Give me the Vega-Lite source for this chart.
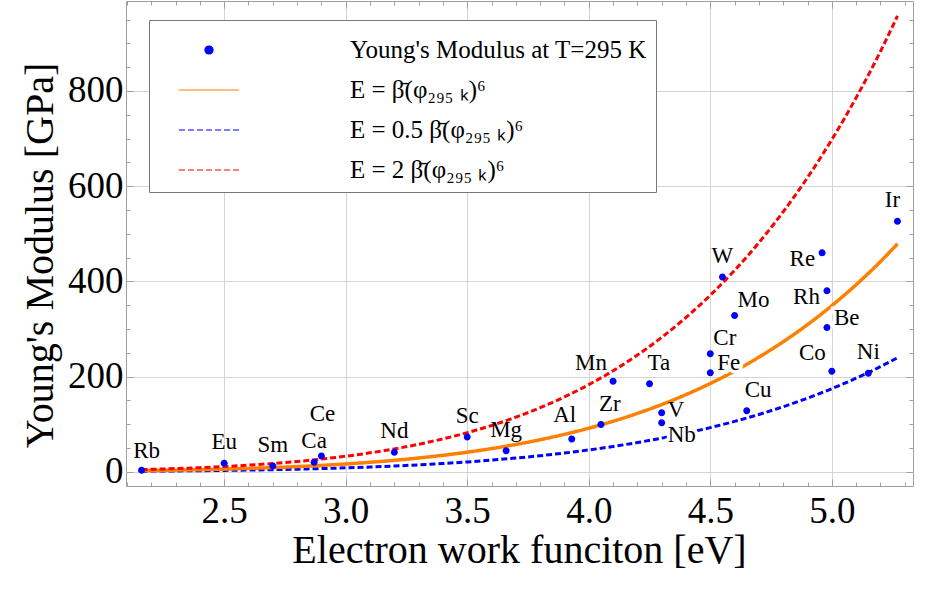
{
  "$schema": "https://vega.github.io/schema/vega-lite/v6.json",
  "width": 787,
  "height": 485,
  "autosize": {"type": "none"},
  "padding": {"left": 126, "top": 1, "right": 37, "bottom": 107},
  "background": "white",
  "config": {
    "font": "Liberation Serif",
    "view": {"stroke": "#a0a0a0", "strokeWidth": 1},
    "axis": {
      "domain": false,
      "labelFont": "Liberation Serif",
      "labelColor": "black",
      "labelOverlap": false,
      "labelFlush": false,
      "titleFont": "Liberation Serif",
      "titleFontWeight": "normal",
      "titleColor": "black",
      "tickColor": "#a0a0a0",
      "gridColor": "#d4d4d4"
    }
  },
  "datasets": {
    "pts": [
      {"el": "Rb", "phi": 2.16, "E": 3},
      {"el": "Eu", "phi": 2.50, "E": 18},
      {"el": "Sm", "phi": 2.70, "E": 12},
      {"el": "Ca", "phi": 2.87, "E": 20},
      {"el": "Ce", "phi": 2.90, "E": 33},
      {"el": "Nd", "phi": 3.20, "E": 41},
      {"el": "Sc", "phi": 3.50, "E": 73},
      {"el": "Mg", "phi": 3.66, "E": 44},
      {"el": "Al", "phi": 3.93, "E": 69},
      {"el": "Zr", "phi": 4.05, "E": 99},
      {"el": "Mn", "phi": 4.10, "E": 190},
      {"el": "Ta", "phi": 4.25, "E": 185},
      {"el": "V", "phi": 4.30, "E": 124},
      {"el": "Nb", "phi": 4.30, "E": 103},
      {"el": "Cr", "phi": 4.50, "E": 248},
      {"el": "Fe", "phi": 4.50, "E": 208},
      {"el": "W", "phi": 4.55, "E": 409},
      {"el": "Mo", "phi": 4.60, "E": 328},
      {"el": "Cu", "phi": 4.65, "E": 128},
      {"el": "Re", "phi": 4.96, "E": 460},
      {"el": "Rh", "phi": 4.98, "E": 380},
      {"el": "Be", "phi": 4.98, "E": 303},
      {"el": "Co", "phi": 5.00, "E": 211},
      {"el": "Ni", "phi": 5.15, "E": 207},
      {"el": "Ir", "phi": 5.27, "E": 526}
    ],
    "fit": [
      {"phi": 2.16, "E1": 2.27, "E05": 1.13, "E2": 4.54},
      {"phi": 2.2, "E1": 2.53, "E05": 1.27, "E2": 5.06},
      {"phi": 2.3, "E1": 3.31, "E05": 1.65, "E2": 6.61},
      {"phi": 2.4, "E1": 4.27, "E05": 2.13, "E2": 8.53},
      {"phi": 2.5, "E1": 5.45, "E05": 2.73, "E2": 10.9},
      {"phi": 2.6, "E1": 6.9, "E05": 3.45, "E2": 13.8},
      {"phi": 2.7, "E1": 8.65, "E05": 4.33, "E2": 17.3},
      {"phi": 2.8, "E1": 10.76, "E05": 5.38, "E2": 21.52},
      {"phi": 2.9, "E1": 13.28, "E05": 6.64, "E2": 26.56},
      {"phi": 3.0, "E1": 16.28, "E05": 8.14, "E2": 32.56},
      {"phi": 3.1, "E1": 19.82, "E05": 9.91, "E2": 39.64},
      {"phi": 3.2, "E1": 23.98, "E05": 11.99, "E2": 47.95},
      {"phi": 3.3, "E1": 28.84, "E05": 14.42, "E2": 57.68},
      {"phi": 3.4, "E1": 34.5, "E05": 17.25, "E2": 68.99},
      {"phi": 3.5, "E1": 41.05, "E05": 20.52, "E2": 82.1},
      {"phi": 3.6, "E1": 48.61, "E05": 24.3, "E2": 97.21},
      {"phi": 3.7, "E1": 57.29, "E05": 28.65, "E2": 114.59},
      {"phi": 3.8, "E1": 67.23, "E05": 33.62, "E2": 134.47},
      {"phi": 3.9, "E1": 78.57, "E05": 39.29, "E2": 157.15},
      {"phi": 4.0, "E1": 91.46, "E05": 45.73, "E2": 182.93},
      {"phi": 4.1, "E1": 106.07, "E05": 53.04, "E2": 212.14},
      {"phi": 4.2, "E1": 122.57, "E05": 61.29, "E2": 245.14},
      {"phi": 4.3, "E1": 141.16, "E05": 70.58, "E2": 282.32},
      {"phi": 4.4, "E1": 162.03, "E05": 81.02, "E2": 324.06},
      {"phi": 4.5, "E1": 185.42, "E05": 92.71, "E2": 370.84},
      {"phi": 4.6, "E1": 211.56, "E05": 105.78, "E2": 423.12},
      {"phi": 4.7, "E1": 240.7, "E05": 120.35, "E2": 481.4},
      {"phi": 4.8, "E1": 273.11, "E05": 136.56, "E2": 546.22},
      {"phi": 4.9, "E1": 309.08, "E05": 154.54, "E2": 618.16},
      {"phi": 5.0, "E1": 348.91, "E05": 174.46, "E2": 697.82},
      {"phi": 5.1, "E1": 392.93, "E05": 196.47, "E2": 785.86},
      {"phi": 5.2, "E1": 441.48, "E05": 220.74, "E2": 882.96},
      {"phi": 5.27, "E1": 478.8, "E05": 239.4, "E2": 957.6}
    ]
  },
  "resolve": {"scale": {"x": "shared", "y": "shared"}, "axis": {"x": "independent", "y": "independent"}},
  "layer": [
    {
      "data": {"name": "fit"},
      "mark": {"type": "line", "strokeWidth": 3, "interpolate": "monotone"},
      "encoding": {
        "x": {
          "field": "phi", "type": "quantitative",
          "scale": {"domain": [2.096, 5.334], "nice": false, "zero": false},
          "title": "Electron work funciton [eV]",
          "axis": {
            "orient": "bottom",
            "values": [2.1, 2.2, 2.3, 2.4, 2.5, 2.6, 2.7, 2.8, 2.9, 3.0, 3.1, 3.2, 3.3, 3.4, 3.5, 3.6, 3.7, 3.8, 3.9, 4.0, 4.1, 4.2, 4.3, 4.4, 4.5, 4.6, 4.7, 4.8, 4.9, 5.0, 5.1, 5.2, 5.3],
            "format": ".1f",
            "labelExpr": "abs(datum.value * 2 - round(datum.value * 2)) < 0.01 ? datum.label : ''",
            "labelFontSize": 37,
            "labelPadding": 14,
            "tickSize": {"condition": {"test": "abs(datum.value * 2 - round(datum.value * 2)) < 0.01", "value": -7}, "value": -4},
            "gridOpacity": {"condition": {"test": "abs(datum.value * 2 - round(datum.value * 2)) < 0.01", "value": 1}, "value": 0},
            "titleFontSize": 40,
            "titleX": 393,
            "titleY": 64,
            "titleBaseline": "middle"
          }
        },
        "y": {
          "field": "E05", "type": "quantitative",
          "scale": {"domain": [-30, 989], "nice": false, "zero": false},
          "title": "Young's Modulus [GPa]",
          "axis": {
            "orient": "left",
            "values": [0, 50, 100, 150, 200, 250, 300, 350, 400, 450, 500, 550, 600, 650, 700, 750, 800, 850, 900, 950],
            "labelExpr": "datum.value % 200 === 0 ? datum.label : ''",
            "labelFontSize": 37,
            "labelPadding": 10,
            "tickSize": {"condition": {"test": "datum.value % 200 === 0", "value": -7}, "value": -4},
            "gridOpacity": {"condition": {"test": "datum.value % 200 === 0", "value": 1}, "value": 0},
            "titleFontSize": 40,
            "titleX": -86,
            "titleY": 254,
            "titleBaseline": "middle"
          }
        },
        "color": {
          "datum": "E = 0.5 β̄(φ₂₉₅ ₖ)⁶",
          "scale": {
            "domain": ["Young's Modulus at T=295 K", "E = β̄(φ₂₉₅ ₖ)⁶", "E = 0.5 β̄(φ₂₉₅ ₖ)⁶", "E = 2 β̄(φ₂₉₅ ₖ)⁶"],
            "range": ["#0000ff", "#ff7f00", "#0000ff", "#ff0000"]
          }
        },
        "strokeDash": {
          "datum": "E = 0.5 β̄(φ₂₉₅ ₖ)⁶",
          "scale": {
            "domain": ["Young's Modulus at T=295 K", "E = β̄(φ₂₉₅ ₖ)⁶", "E = 0.5 β̄(φ₂₉₅ ₖ)⁶", "E = 2 β̄(φ₂₉₅ ₖ)⁶"],
            "range": [[1, 0], [1, 0], [6, 3], [6, 3]]
          },
          "legend": {"orient": "none", "legendX": 23, "legendY": 19, "title": null}
        }
      }
    },
    {
      "data": {"name": "fit"},
      "mark": {"type": "line", "strokeWidth": 3.5, "interpolate": "monotone"},
      "encoding": {
        "x": {"field": "phi", "type": "quantitative", "axis": null},
        "y": {"field": "E1", "type": "quantitative", "axis": null},
        "color": {"datum": "E = β̄(φ₂₉₅ ₖ)⁶"},
        "strokeDash": {"datum": "E = β̄(φ₂₉₅ ₖ)⁶"}
      }
    },
    {
      "data": {"name": "fit"},
      "mark": {"type": "line", "strokeWidth": 3, "interpolate": "monotone"},
      "encoding": {
        "x": {
          "field": "phi", "type": "quantitative",
          "axis": {
            "orient": "top", "title": null, "labels": false, "grid": false,
            "values": [2.1, 2.2, 2.3, 2.4, 2.5, 2.6, 2.7, 2.8, 2.9, 3.0, 3.1, 3.2, 3.3, 3.4, 3.5, 3.6, 3.7, 3.8, 3.9, 4.0, 4.1, 4.2, 4.3, 4.4, 4.5, 4.6, 4.7, 4.8, 4.9, 5.0, 5.1, 5.2, 5.3],
            "tickSize": {"condition": {"test": "abs(datum.value * 2 - round(datum.value * 2)) < 0.01", "value": -7}, "value": -4}
          }
        },
        "y": {
          "field": "E2", "type": "quantitative",
          "axis": {
            "orient": "right", "title": null, "labels": false, "grid": false,
            "values": [0, 50, 100, 150, 200, 250, 300, 350, 400, 450, 500, 550, 600, 650, 700, 750, 800, 850, 900, 950],
            "tickSize": {"condition": {"test": "datum.value % 200 === 0", "value": -7}, "value": -4}
          }
        },
        "color": {"datum": "E = 2 β̄(φ₂₉₅ ₖ)⁶"},
        "strokeDash": {"datum": "E = 2 β̄(φ₂₉₅ ₖ)⁶"}
      }
    },
    {
      "data": {"name": "pts"},
      "transform": [{"filter": {"field": "el", "oneOf": ["Fe", "Be"]}}],
      "mark": {"type": "text", "fontSize": 23, "align": "left", "baseline": "middle", "dx": 7, "dy": -10, "color": "white", "stroke": "white", "strokeWidth": 7},
      "encoding": {
        "x": {"field": "phi", "type": "quantitative", "axis": null},
        "y": {"field": "E", "type": "quantitative", "axis": null},
        "text": {"field": "el"}
      }
    },
    {
      "data": {"name": "pts"},
      "transform": [{"filter": {"field": "el", "oneOf": ["Nb"]}}],
      "mark": {"type": "text", "fontSize": 23, "align": "left", "baseline": "middle", "dx": 6, "dy": 12, "color": "white", "stroke": "white", "strokeWidth": 7},
      "encoding": {
        "x": {"field": "phi", "type": "quantitative", "axis": null},
        "y": {"field": "E", "type": "quantitative", "axis": null},
        "text": {"field": "el"}
      }
    },
    {
      "data": {"name": "pts"},
      "mark": {"type": "point", "filled": true, "size": 1225, "opacity": 1, "strokeWidth": 0},
      "encoding": {
        "x": {"field": "phi", "type": "quantitative", "axis": null},
        "y": {"field": "E", "type": "quantitative", "axis": null},
        "shape": {
          "datum": "Young's Modulus at T=295 K",
          "scale": {
            "domain": ["Young's Modulus at T=295 K", "E = β̄(φ₂₉₅ ₖ)⁶", "E = 0.5 β̄(φ₂₉₅ ₖ)⁶", "E = 2 β̄(φ₂₉₅ ₖ)⁶"],
            "range": ["M 0.2 0 A 0.2 0.2 0 1 1 -0.2 0 A 0.2 0.2 0 1 1 0.2 0 Z", "M -1.5 0 L 1.5 0", "M -1.5 0 L 1.5 0", "M -1.5 0 L 1.5 0"]
          },
          "legend": {"orient": "none", "legendX": 23, "legendY": 19, "title": null}
        },
        "color": {
          "datum": "Young's Modulus at T=295 K",
          "legend": {
            "title": null,
            "orient": "none",
            "legendX": 23,
            "legendY": 19,
            "padding": 9,
            "fillColor": "white",
            "strokeColor": "#777777",
            "symbolSize": 1600,
            "symbolOffset": 30,
            "symbolStrokeWidth": 1.2,
            "symbolOpacity": 1,
            "labelOffset": 120,
            "labelFontSize": 25,
            "labelFont": "Liberation Serif",
            "labelColor": "black",
            "labelLimit": 0,
            "rowPadding": 6
          }
        }
      }
    },
    {
      "data": {"name": "pts"},
      "transform": [{"filter": {"field": "el", "oneOf": ["Eu", "Sm", "Ca", "Nd", "Sc", "Mg", "W", "Ni"]}}],
      "mark": {"type": "text", "fontSize": 23, "align": "center", "baseline": "middle", "dy": -21, "color": "black"},
      "encoding": {
        "x": {"field": "phi", "type": "quantitative", "axis": null},
        "y": {"field": "E", "type": "quantitative", "axis": null},
        "text": {"field": "el"}
      }
    },
    {
      "data": {"name": "pts"},
      "transform": [{"filter": {"field": "el", "oneOf": ["Rb"]}}],
      "mark": {"type": "text", "fontSize": 23, "align": "center", "baseline": "middle", "dx": 5, "dy": -19, "color": "black"},
      "encoding": {
        "x": {"field": "phi", "type": "quantitative", "axis": null},
        "y": {"field": "E", "type": "quantitative", "axis": null},
        "text": {"field": "el"}
      }
    },
    {
      "data": {"name": "pts"},
      "transform": [{"filter": {"field": "el", "oneOf": ["Ir"]}}],
      "mark": {"type": "text", "fontSize": 23, "align": "center", "baseline": "middle", "dx": -5, "dy": -21, "color": "black"},
      "encoding": {
        "x": {"field": "phi", "type": "quantitative", "axis": null},
        "y": {"field": "E", "type": "quantitative", "axis": null},
        "text": {"field": "el"}
      }
    },
    {
      "data": {"name": "pts"},
      "transform": [{"filter": {"field": "el", "oneOf": ["Ce"]}}],
      "mark": {"type": "text", "fontSize": 23, "align": "center", "baseline": "middle", "dx": 1, "dy": -42, "color": "black"},
      "encoding": {
        "x": {"field": "phi", "type": "quantitative", "axis": null},
        "y": {"field": "E", "type": "quantitative", "axis": null},
        "text": {"field": "el"}
      }
    },
    {
      "data": {"name": "pts"},
      "transform": [{"filter": {"field": "el", "oneOf": ["Al"]}}],
      "mark": {"type": "text", "fontSize": 23, "align": "center", "baseline": "middle", "dx": -7, "dy": -24, "color": "black"},
      "encoding": {
        "x": {"field": "phi", "type": "quantitative", "axis": null},
        "y": {"field": "E", "type": "quantitative", "axis": null},
        "text": {"field": "el"}
      }
    },
    {
      "data": {"name": "pts"},
      "transform": [{"filter": {"field": "el", "oneOf": ["Mn", "Co"]}}],
      "mark": {"type": "text", "fontSize": 23, "align": "right", "baseline": "middle", "dx": -6, "dy": -18, "color": "black"},
      "encoding": {
        "x": {"field": "phi", "type": "quantitative", "axis": null},
        "y": {"field": "E", "type": "quantitative", "axis": null},
        "text": {"field": "el"}
      }
    },
    {
      "data": {"name": "pts"},
      "transform": [{"filter": {"field": "el", "oneOf": ["Zr", "Ta", "Cu"]}}],
      "mark": {"type": "text", "fontSize": 23, "align": "left", "baseline": "middle", "dx": -2, "dy": -21, "color": "black"},
      "encoding": {
        "x": {"field": "phi", "type": "quantitative", "axis": null},
        "y": {"field": "E", "type": "quantitative", "axis": null},
        "text": {"field": "el"}
      }
    },
    {
      "data": {"name": "pts"},
      "transform": [{"filter": {"field": "el", "oneOf": ["Cr", "Mo"]}}],
      "mark": {"type": "text", "fontSize": 23, "align": "left", "baseline": "middle", "dx": 3, "dy": -16, "color": "black"},
      "encoding": {
        "x": {"field": "phi", "type": "quantitative", "axis": null},
        "y": {"field": "E", "type": "quantitative", "axis": null},
        "text": {"field": "el"}
      }
    },
    {
      "data": {"name": "pts"},
      "transform": [{"filter": {"field": "el", "oneOf": ["Fe", "Be"]}}],
      "mark": {"type": "text", "fontSize": 23, "align": "left", "baseline": "middle", "dx": 7, "dy": -10, "color": "black"},
      "encoding": {
        "x": {"field": "phi", "type": "quantitative", "axis": null},
        "y": {"field": "E", "type": "quantitative", "axis": null},
        "text": {"field": "el"}
      }
    },
    {
      "data": {"name": "pts"},
      "transform": [{"filter": {"field": "el", "oneOf": ["V"]}}],
      "mark": {"type": "text", "fontSize": 23, "align": "left", "baseline": "middle", "dx": 6, "dy": -3, "color": "black"},
      "encoding": {
        "x": {"field": "phi", "type": "quantitative", "axis": null},
        "y": {"field": "E", "type": "quantitative", "axis": null},
        "text": {"field": "el"}
      }
    },
    {
      "data": {"name": "pts"},
      "transform": [{"filter": {"field": "el", "oneOf": ["Nb"]}}],
      "mark": {"type": "text", "fontSize": 23, "align": "left", "baseline": "middle", "dx": 6, "dy": 12, "color": "black"},
      "encoding": {
        "x": {"field": "phi", "type": "quantitative", "axis": null},
        "y": {"field": "E", "type": "quantitative", "axis": null},
        "text": {"field": "el"}
      }
    },
    {
      "data": {"name": "pts"},
      "transform": [{"filter": {"field": "el", "oneOf": ["Re", "Rh"]}}],
      "mark": {"type": "text", "fontSize": 23, "align": "right", "baseline": "middle", "dx": -7, "dy": 6, "color": "black"},
      "encoding": {
        "x": {"field": "phi", "type": "quantitative", "axis": null},
        "y": {"field": "E", "type": "quantitative", "axis": null},
        "text": {"field": "el"}
      }
    }
  ]
}
